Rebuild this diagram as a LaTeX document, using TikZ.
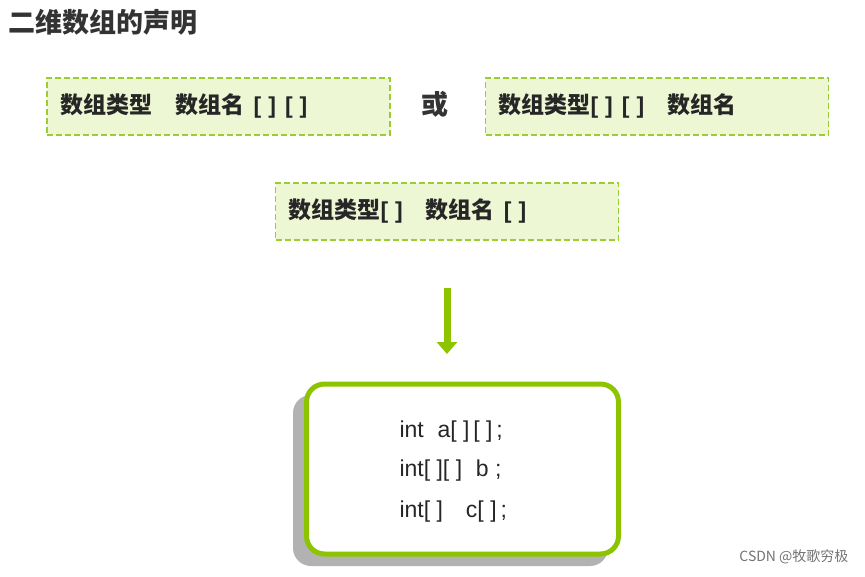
\documentclass[tikz,border=0pt]{standalone}
\usepackage{fontspec}
\setmainfont{Liberation Sans}
\newfontfamily\cjk{Noto Sans CJK SC}
\usetikzlibrary{arrows.meta}
\definecolor{gbord}{HTML}{9ACD32}
\definecolor{gfill}{HTML}{EEF7D4}
\definecolor{garrow}{HTML}{8CC400}
\newcommand{\bk}{{\fontspec{Liberation Sans}\bfseries[\hspace{0.3em}]}}
\tikzset{
 declbox/.style={draw=gbord,dash pattern=on 6pt off 3pt,line width=1.5pt,fill=gfill,minimum width=343pt,minimum height=57pt},
 decltext/.style={anchor=west,font=\cjk\bfseries\fontsize{23}{26}\selectfont,text=black!85},
 code/.style={font=\fontsize{23}{26}\selectfont,text=black!85}
}
\begin{document}
\begin{tikzpicture}[x=1pt,y=-1pt]
\useasboundingbox (0,0) rectangle (865,576);
\node[anchor=west,font=\cjk\bfseries\fontsize{27}{30}\selectfont,text=black!80] (title) at (5,22) {二维数组的声明};
\node[declbox] (b1) at (218.5,106.5) {};
\node[decltext] (t1) at (57,106) {数组类型\hspace{1em}数组名\hspace{0.4em}\bk\hspace{0.4em}\bk};
\node[font=\cjk\bfseries\fontsize{27}{30}\selectfont,text=black!80] (or) at (435,104) {或};
\node[declbox] (b2) at (657,106.5) {};
\node[decltext] (t2) at (495,106) {数组类型\bk\hspace{0.4em}\bk\hspace{1em}数组名};
\node[declbox] (b3) at (447,211.5) {};
\node[decltext] (t3) at (285,211) {数组类型\bk\hspace{1em}数组名\hspace{0.4em}\bk};
\coordinate (a1) at (447,288);
\coordinate (a2) at (447,354);
\draw[garrow,line width=7pt,-{Triangle[length=12pt,width=20pt]}] (a1) -- (a2);
\fill[gray!60,rounded corners=18pt] (293,395) rectangle (608,566);
\node[draw=garrow,line width=5pt,fill=white,rounded corners=18pt,minimum width=312pt,minimum height=170pt] (cb) at (462.5,469) {};
\node[code,anchor=west] (l1) at (396,432) {int\hspace{0.6em}a[ ]\,[ ]\,;};
\node[code,anchor=west] (l2) at (396,471) {int[ ][ ]\hspace{0.6em}b ;};
\node[code,anchor=west] (l3) at (396,512) {int[ ]\hspace{1em}c[ ]\,;};
\node[anchor=east,font=\cjk\fontsize{14}{16}\selectfont,text=gray!90!black] (wm) at (852,557) {CSDN @牧歌穷极};
\end{tikzpicture}
\end{document}
